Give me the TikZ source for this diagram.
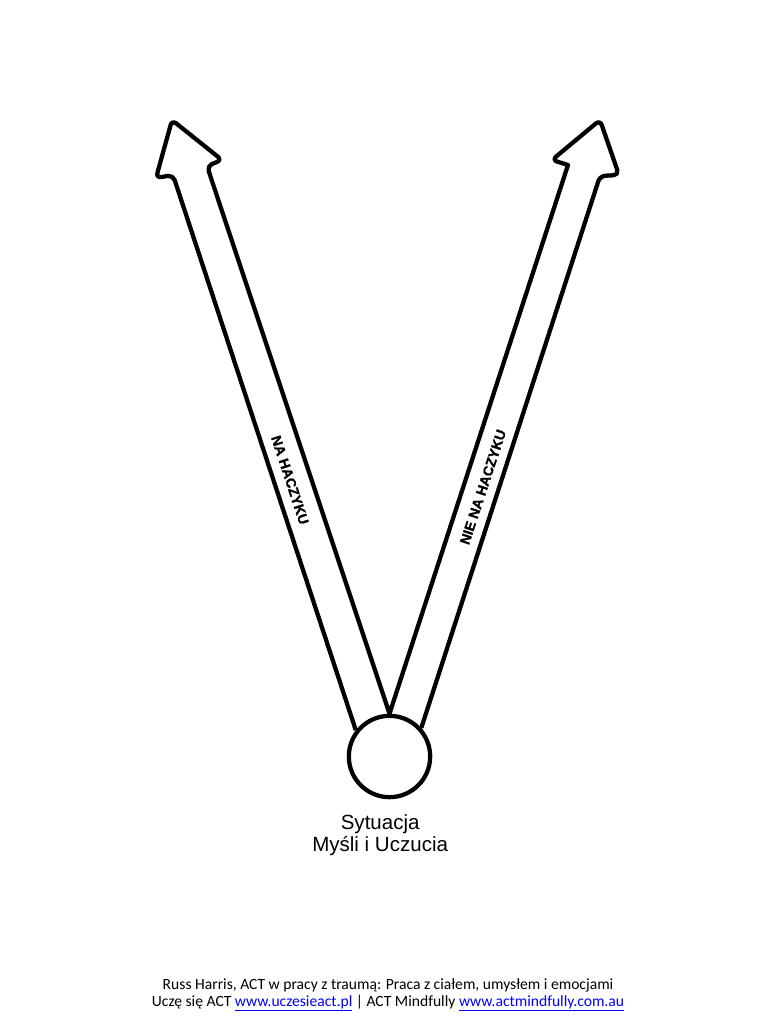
\documentclass[tikz,border=0pt]{standalone}
\usepackage{fontspec}
\setmainfont{Liberation Sans}
\newfontfamily\footfont{Carlito}
\newfontfamily\heavyfont[FakeBold=1.2]{Liberation Sans Bold}
\usetikzlibrary{positioning}
\tikzset{
    node distance=8pt, % gap between the circle and its caption
    }

\begin{document}
\begin{tikzpicture}[x=0.75pt, y=-0.75pt,
roundnode/.style={circle, draw=black, line width=3.2pt, minimum size=61pt, inner sep=0pt},
arrowline/.style={draw=black, line width=3.2pt, rounded corners=4pt, line join=round},
shaftlabel/.style={font=\heavyfont\fontsize{10.5}{12}\selectfont, inner sep=0pt},
captionnode/.style={align=center, font=\fontsize{15.4}{16.5}\selectfont},
footnode/.style={font=\footfont\fontsize{11.7}{13}\selectfont, anchor=base, inner sep=0pt},
]
\useasboundingbox (0,0) rectangle (768,1024);
\node[roundnode] (sit) at (389.5,756.5) {};
\node[captionnode] (caption) [below=of sit, xshift=-7pt] {Sytuacja\\Myśli i Uczucia};

% the two arrows, one outline
\draw[arrowline] (sit.142) -- (173,175) -- (156,178) -- (172,120) -- (222,160) -- (207,166)
  [sharp corners] -- (sit.north) -- (568,165) [rounded corners=4pt] -- (552,160) -- (600,120)
  -- (619,175) -- (600,176) -- (sit.42);

\node[shaftlabel, rotate=-71.8] (hooked) at (290,480) {NA HACZYKU};
\node[shaftlabel, rotate=71.8] (unhooked) at (483,487) {NIE NA HACZYKU};

\node[footnode] (foot1) at (388,989) {Russ Harris, ACT w pracy z traumą: Praca z ciałem, umysłem i emocjami};
\node[footnode] (foot2) at (388,1006) {Uczę się ACT \textcolor{blue}{\underline{www.uczesieact.pl}} | ACT Mindfully \textcolor{blue}{\underline{www.actmindfully.com.au}}};
\end{tikzpicture}
\end{document}
